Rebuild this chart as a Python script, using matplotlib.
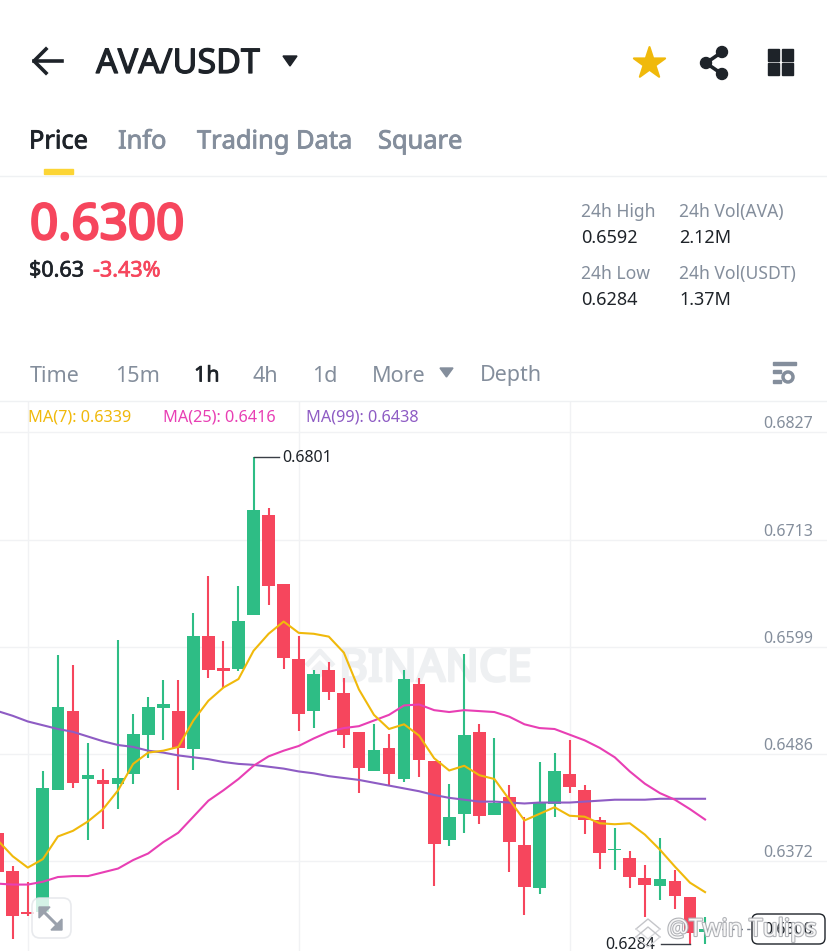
import matplotlib
matplotlib.use('Agg')
import matplotlib.pyplot as plt
import matplotlib.patheffects as pe
from matplotlib.patches import FancyBboxPatch, Polygon, Rectangle, Circle

# candles (1h)
opens = [0.6402, 0.6361, 0.6318, 0.6318, 0.6447, 0.6531, 0.6459, 0.6458, 0.6454, 0.6464, 0.6506, 0.6534,
         0.6531, 0.6491, 0.6611, 0.6577, 0.6576, 0.6633, 0.6739, 0.6666, 0.6586, 0.6531, 0.6575, 0.6550,
         0.6509, 0.6467, 0.6492, 0.6459, 0.6560, 0.6478, 0.6394, 0.6422, 0.6509, 0.6421, 0.6440, 0.6389,
         0.6343, 0.6432, 0.6464, 0.6447, 0.6415, 0.6384, 0.6375, 0.6354, 0.6346, 0.6351, 0.6334, 0.6297]
highs = [0.6402, 0.6367, 0.6350, 0.6467, 0.6590, 0.6580, 0.6497, 0.6470, 0.6606, 0.6528, 0.6546, 0.6564,
         0.6564, 0.6635, 0.6674, 0.6605, 0.6664, 0.6801, 0.6746, 0.6666, 0.6611, 0.6575, 0.6583, 0.6566,
         0.6509, 0.6517, 0.6507, 0.6575, 0.6566, 0.6478, 0.6454, 0.6592, 0.6517, 0.6502, 0.6453, 0.6419,
         0.6477, 0.6487, 0.6500, 0.6453, 0.6419, 0.6407, 0.6383, 0.6368, 0.6396, 0.6362, 0.6334, 0.6313]
lows = [0.6360, 0.6289, 0.6314, 0.6318, 0.6447, 0.6449, 0.6394, 0.6406, 0.6427, 0.6454, 0.6481, 0.6500,
        0.6447, 0.6469, 0.6566, 0.6555, 0.6574, 0.6633, 0.6644, 0.6576, 0.6510, 0.6513, 0.6543, 0.6492,
        0.6444, 0.6467, 0.6452, 0.6456, 0.6461, 0.6345, 0.6388, 0.6402, 0.6411, 0.6421, 0.6360, 0.6315,
        0.6337, 0.6419, 0.6444, 0.6401, 0.6363, 0.6362, 0.6343, 0.6313, 0.6331, 0.6321, 0.6284, 0.6284]
closes = [0.6360, 0.6314, 0.6316, 0.6449, 0.6535, 0.6455, 0.6463, 0.6454, 0.6460, 0.6507, 0.6535, 0.6539,
          0.6492, 0.6611, 0.6575, 0.6573, 0.6627, 0.6744, 0.6664, 0.6587, 0.6528, 0.6570, 0.6551, 0.6506,
          0.6471, 0.6490, 0.6464, 0.6565, 0.6479, 0.6390, 0.6419, 0.6506, 0.6420, 0.6434, 0.6392, 0.6344,
          0.6433, 0.6467, 0.6450, 0.6415, 0.6381, 0.6385, 0.6355, 0.6347, 0.6353, 0.6335, 0.6296, 0.6300]

# moving averages
ma7 = [0.6394, 0.6377, 0.6365, 0.6374, 0.6398, 0.6404, 0.6414, 0.6427, 0.6447, 0.6475, 0.6487, 0.6489,
       0.6493, 0.6521, 0.6542, 0.6556, 0.6565, 0.6595, 0.6613, 0.6626, 0.6614, 0.6613, 0.6610, 0.6593,
       0.6554, 0.6527, 0.6512, 0.6517, 0.6505, 0.6481, 0.6468, 0.6473, 0.6463, 0.6459, 0.6437, 0.6415,
       0.6422, 0.6429, 0.6420, 0.6419, 0.6412, 0.6411, 0.6412, 0.6400, 0.6384, 0.6366, 0.6349, 0.6339]
ma25 = [0.6348, 0.6347, 0.6347, 0.6350, 0.6355, 0.6356, 0.6356, 0.6360, 0.6364, 0.6373, 0.6380, 0.6392,
        0.6402, 0.6419, 0.6436, 0.6447, 0.6459, 0.6473, 0.6483, 0.6489, 0.6494, 0.6502, 0.6509, 0.6513,
        0.6515, 0.6521, 0.6527, 0.6537, 0.6538, 0.6532, 0.6530, 0.6532, 0.6531, 0.6530, 0.6525, 0.6517,
        0.6513, 0.6512, 0.6506, 0.6500, 0.6492, 0.6482, 0.6467, 0.6454, 0.6444, 0.6437, 0.6427, 0.6416]
ma99 = [0.6531, 0.6526, 0.6520, 0.6516, 0.6512, 0.6509, 0.6504, 0.6499, 0.6495, 0.6493, 0.6489, 0.6487,
        0.6484, 0.6482, 0.6480, 0.6477, 0.6475, 0.6474, 0.6472, 0.6470, 0.6467, 0.6465, 0.6462, 0.6460,
        0.6458, 0.6455, 0.6452, 0.6449, 0.6446, 0.6442, 0.6439, 0.6437, 0.6435, 0.6435, 0.6434, 0.6433,
        0.6434, 0.6434, 0.6434, 0.6435, 0.6436, 0.6437, 0.6437, 0.6437, 0.6438, 0.6438, 0.6438, 0.6438]

price_ticks = [0.6827, 0.6713, 0.6599, 0.6486, 0.6372]
time_tabs = ['Time', '15m', '1h', '4h', '1d', 'More', 'Depth']
main_tabs = ['Price', 'Info', 'Trading Data', 'Square']

GREEN = '#2ebd85'
RED = '#f6465d'
DARK = '#1e2329'
GREY = '#848e9c'
LINE = '#eff1f3'

plt.rcParams['font.family'] = ['Noto Sans', 'DejaVu Sans']


def heavy(color, width=0.5):
    # the font only comes in one weight here, thicken it with a stroke
    return [pe.withStroke(linewidth=width, foreground=color)]


fig = plt.figure(figsize=(8.28, 9.51), dpi=100, facecolor='white')

# ==== chart area, pixel rows 401-951 ====
ax = fig.add_axes([0, 0, 1, 550 / 951], zorder=1)
ax.set_xlim(2.3 / 15.05, 830.3 / 15.05)
ax.set_ylim(0.6372 - 90 / 9428, 0.6372 + 460 / 9428)
ax.patch.set_alpha(0)
for s in ax.spines.values():
    s.set_visible(False)
ax.tick_params(left=False, bottom=False, labelleft=False, labelbottom=False)
ax.set_yticks(price_ticks)
ax.set_xticks([2, 20, 38])
ax.grid(color='#f1f2f4', linewidth=1.0)
ax.set_axisbelow(True)

x = list(range(len(opens)))
colors = [GREEN if c >= o else RED for o, c in zip(opens, closes)]
ax.vlines(x, lows, highs, colors=colors, linewidth=1.5, zorder=2)
ax.bar(x, [max(abs(c - o), 0.00012) for o, c in zip(opens, closes)],
       bottom=[min(o, c) for o, c in zip(opens, closes)], width=0.85, color=colors, zorder=3)

ax.plot(x, ma99, color='#8e5cc4', linewidth=1.5, zorder=4)
ax.plot(x, ma25, color='#e83fb4', linewidth=1.5, zorder=5)
ax.plot(x, ma7, color='#f0b90b', linewidth=1.5, zorder=6)

# axis labels sit just above their grid lines
for p in price_ticks:
    ax.annotate(f'{p:.4f}', xy=(0.982, p), xycoords=ax.get_yaxis_transform(), xytext=(0, 0),
                textcoords='offset points', ha='right', va='bottom', fontsize=11.5, color=GREY)

# high / low markers
ax.plot([17, 18.7], [0.6801, 0.6801], color='#3a3f46', linewidth=1, zorder=7)
ax.annotate('0.6801', xy=(18.8, 0.6801), xytext=(1, -1), textcoords='offset points',
            ha='left', va='center', fontsize=11.5, color=DARK)
ax.plot([44.1, 46], [0.6284, 0.6284], color='#3a3f46', linewidth=1, zorder=7)
ax.annotate('0.6284', xy=(43.65, 0.6284), xytext=(0, -0.5), textcoords='offset points',
            ha='right', va='center', fontsize=11.5, color=DARK)

# last price dashes up to the box
ax.plot([47, 50], [closes[-1], closes[-1]], color='#777e8a', linewidth=1, linestyle=(0, (3, 3)), zorder=7)

# ==== everything else in pixel coordinates ====
ui = fig.add_axes([0, 0, 1, 1], zorder=2)
ui.set_xlim(0, 828)
ui.set_ylim(951, 0)
ui.axis('off')

# faint logo behind the candles
ax.text(339, 670, 'BINANCE', transform=ui.transData, ha='left', va='center', fontsize=32,
        color='#eef0f2', zorder=0, clip_on=False, path_effects=heavy('#eef0f2', 2))
ax.plot([308, 320, 332], [664, 651, 664], transform=ui.transData, color='#eef0f2', linewidth=3.5,
        zorder=0, clip_on=False)
ax.add_patch(Polygon([(320, 661), (328, 669), (320, 677), (312, 669)], closed=True, color='#f1f2f4',
                     transform=ui.transData, zorder=0, clip_on=False))

# header
ui.plot([34, 62], [61, 61], color=DARK, linewidth=2.6)
ui.plot([46, 34, 46], [49, 61, 73], color=DARK, linewidth=2.6)
ui.text(96, 64, 'AVA/USDT', fontsize=24.5, color=DARK, va='center', path_effects=heavy(DARK, 0.9))
ui.add_patch(Polygon([(283, 56), (297, 56), (290, 66)], closed=True, color=DARK))
ui.scatter([649], [63], marker='*', s=560, color='#f0b90b', linewidths=1.5, edgecolors='#f0b90b')

# share icon
share_x = [722, 706, 722]
share_y = [52, 63, 74]
ui.plot(share_x, share_y, color=DARK, linewidth=2.6)
for sx, sy in zip(share_x, share_y):
    ui.add_patch(Circle((sx, sy), 5.5, color=DARK))

# layout icon
for sx in (768, 782):
    for sy in (49, 63):
        ui.add_patch(Rectangle((sx, sy), 11.5, 11.5, color=DARK))

# main tabs
for label, tx, col in zip(main_tabs, [29, 118, 197, 378], [DARK, GREY, GREY, GREY]):
    ui.text(tx, 142, label, fontsize=18.3, color=col, va='center', path_effects=heavy(col, 0.6))
ui.add_patch(Rectangle((44, 169), 29, 5, color='#fcd535'))
ui.plot([0, 828], [175.5, 175.5], color=LINE, linewidth=1)

# price block
ui.text(30, 226, '0.6300', fontsize=35.5, color=RED, va='center', path_effects=heavy(RED, 1.8))
ui.text(29, 271, '$0.63', fontsize=15.5, color=DARK, va='center', path_effects=heavy(DARK, 0.5))
ui.text(93, 271, '-3.43%', fontsize=15.5, color=RED, va='center', path_effects=heavy(RED, 0.5))

# 24h stats
ui.text(581, 212, '24h High', fontsize=12.6, color=GREY, va='center')
ui.text(581, 238, '0.6592', fontsize=13, color=DARK, va='center')
ui.text(581, 274, '24h Low', fontsize=12.6, color=GREY, va='center')
ui.text(581, 300, '0.6284', fontsize=13, color=DARK, va='center')
ui.text(679, 212, '24h Vol(AVA)', fontsize=12.6, color=GREY, va='center')
ui.text(679, 238, '2.12M', fontsize=13, color=DARK, va='center')
ui.text(679, 274, '24h Vol(USDT)', fontsize=12.6, color=GREY, va='center')
ui.text(679, 300, '1.37M', fontsize=13, color=DARK, va='center')

# interval tabs
for label, tx in zip(time_tabs, [30, 115, 194, 253, 312, 372, 480]):
    if label == '1h':
        ui.text(tx, 376, label, fontsize=15.5, va='center', color=DARK, path_effects=heavy(DARK, 0.5))
    else:
        ui.text(tx, 376, label, fontsize=15.5, va='center', color=GREY)
ui.add_patch(Polygon([(440, 368), (453, 368), (446.5, 377)], closed=True, color=GREY))
ui.plot([0, 828], [400.5, 400.5], color=LINE, linewidth=1)

# chart settings icon
ui.add_patch(Rectangle((773, 362), 23, 3, color=GREY))
ui.add_patch(Rectangle((773, 370), 8, 3, color=GREY))
ui.add_patch(Rectangle((773, 380), 8, 3, color=GREY))
ui.add_patch(Circle((788, 377), 5, facecolor='white', edgecolor=GREY, linewidth=2.5))

# MA legend
ui.text(28, 417, 'MA(7): 0.6339', fontsize=11.7, color='#f0b90b', va='center')
ui.text(163, 417, 'MA(25): 0.6416', fontsize=11.7, color='#e83fb4', va='center')
ui.text(306, 417, 'MA(99): 0.6438', fontsize=11.7, color='#8e5cc4', va='center')

# expand button
ui.add_patch(FancyBboxPatch((36, 902), 31, 32, boxstyle='round,pad=4,rounding_size=8',
                            facecolor='white', alpha=0.8, edgecolor='#e3e5e9', linewidth=1.2))
ui.plot([44, 57], [912, 925], color='#9aa1ac', linewidth=2.2)
ui.add_patch(Polygon([(39, 907), (50, 907), (39, 918)], closed=True, color='#9aa1ac'))
ui.add_patch(Polygon([(62, 930), (51, 930), (62, 919)], closed=True, color='#9aa1ac'))

# last price box
ui.add_patch(FancyBboxPatch((756, 918), 65, 22, boxstyle='round,pad=4,rounding_size=6',
                            facecolor='white', edgecolor=DARK, linewidth=1))
ui.text(788, 930, '0.6300', fontsize=11.5, color=DARK, ha='center', va='center')

# source watermark on top of the chart
ui.text(667, 930, '@Twin Tulips', fontsize=17.5, color='white', va='center', alpha=0.9,
        path_effects=heavy('#a9abb0', 1.6))
for dy in (0, 8):
    ui.plot([636, 648, 660], [929 + dy, 919 + dy, 929 + dy], color='#c4c5c9', linewidth=1)
    ui.plot([636, 648, 660], [929 + dy, 939 + dy, 929 + dy], color='#d8d9dc', linewidth=1)

fig.savefig('out.png', dpi=100, facecolor='white')
